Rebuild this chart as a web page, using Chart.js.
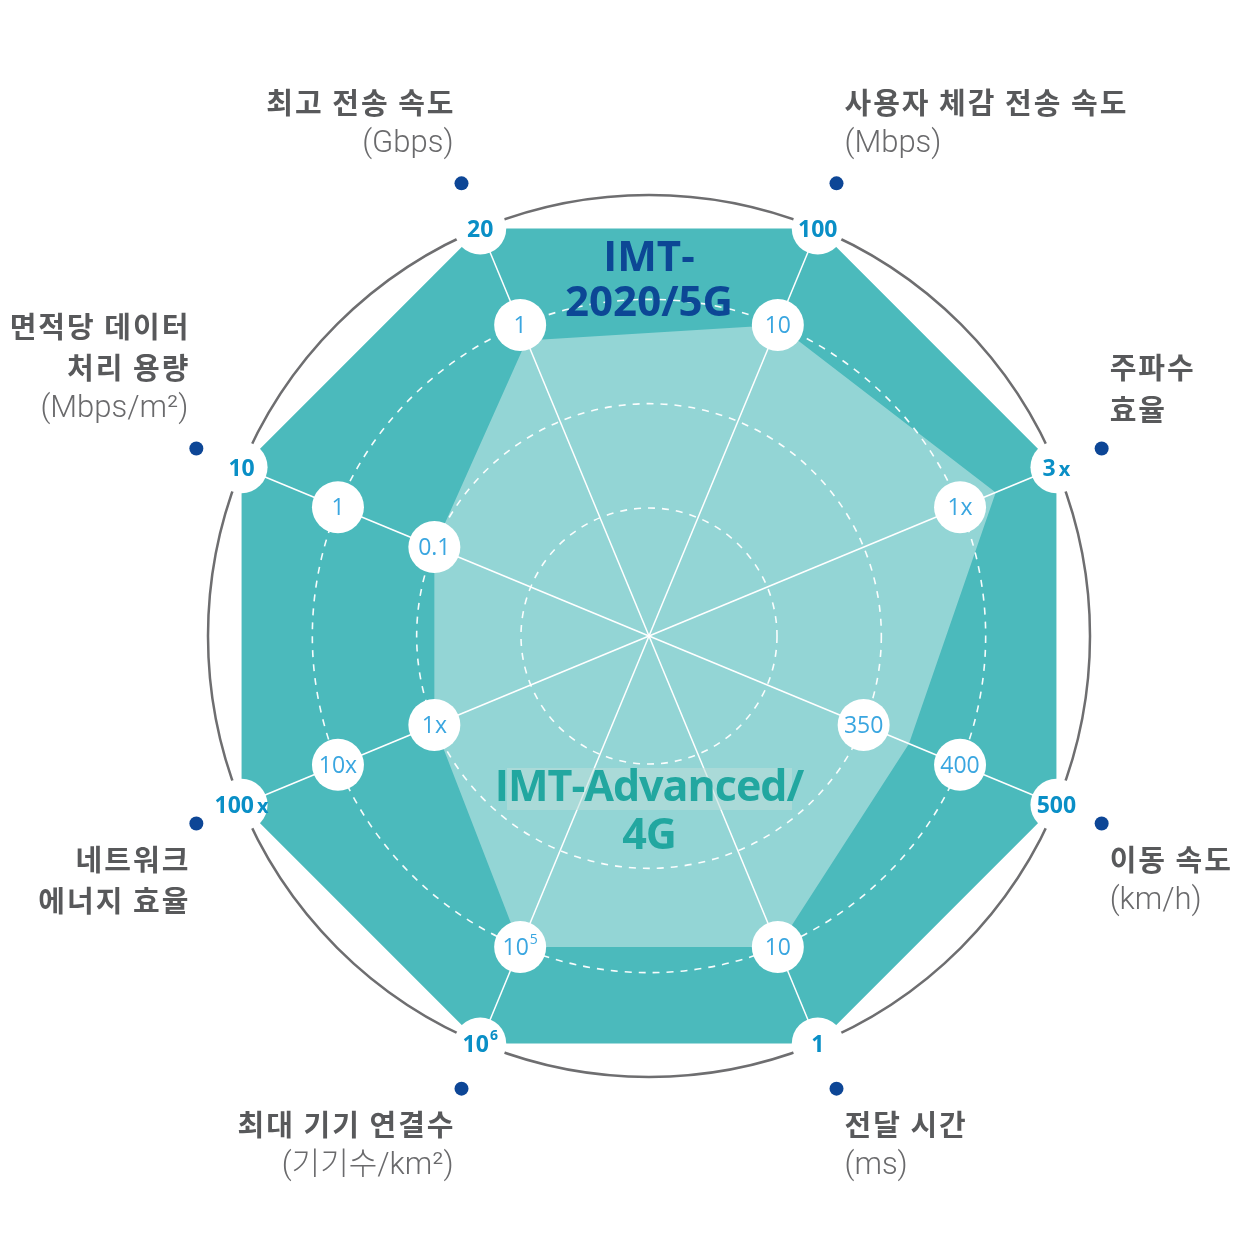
<!DOCTYPE html>
<html><head><meta charset="utf-8">
<script src="https://cdn.jsdelivr.net/npm/chart.js@4.4.1/dist/chart.umd.min.js"></script>
<style>html,body{margin:0;padding:0;background:#fff}#wrap{width:1250px;height:1250px;position:relative}</style>
</head><body><div id="wrap"><canvas id="c"></canvas></div>
<script>
// ---- data ----
const axisNames = [
  ['최고 전송 속도'],
  ['사용자 체감 전송 속도'],
  ['주파수', '효율'],
  ['이동 속도'],
  ['전달 시간'],
  ['최대 기기 연결수'],
  ['네트워크', '에너지 효율'],
  ['면적당 데이터', '처리 용량']
];
const axisUnits = ['(Gbps)', '(Mbps)', '', '(km/h)', '(ms)', '(기기수/km²)', '', '(Mbps/m²)'];
// plotted radial level (ring units)
const imt2020Level = [4, 4, 4, 4, 4, 4, 4, 4];
const imtAdvancedLevel = [2.84, 3.0, 3.37, 2.47, 3.0, 3.0, 2.0, 2.0];
const ringLevels = [1, 2, 3, 4];
const ring2Labels = ['', '', '', '350', '', '', '1x', '0.1'];
const ring3Labels = ['1', '10', '1x', '400', '10', '10^5', '10x', '1'];
const ring4Labels = ['20', '100', '3x', '500', '1', '10^6', '100x', '10'];
const title2020 = ['IMT-', '2020/5G'];
const titleAdvanced = ['IMT-Advanced/', '4G'];

// ---- styles ----
const C_DARK = '#4bbabc', C_LIGHT = '#93d5d5', C_NAVY = '#0c4795', C_TEAL_TXT = '#22a7a0';
const C_OUTER_LBL = '#0a8fc6', C_INNER_LBL = '#3aa6e0', C_GREY = '#58595b';

function drawRich(ctx, text, cx, cy, size, bold, color) {
  const w = bold ? 'bold ' : '';
  const fam = "'Open Sans', 'Noto Sans', sans-serif";
  let parts = [];
  if (text.includes('^')) {
    const [b, s] = text.split('^');
    parts.push({t: b, f: w + size + 'px ' + fam, dy: 0, gap: 0});
    parts.push({t: s, f: w + Math.round(size * 0.6) + 'px ' + fam, dy: -size * 0.5, gap: 1});
  } else if (bold && text.endsWith('x')) {
    parts.push({t: text.slice(0, -1), f: w + size + 'px ' + fam, dy: 0, gap: 0});
    parts.push({t: 'x', f: w + Math.round(size * 0.85) + 'px ' + fam, dy: 0, gap: 3});
  } else {
    parts.push({t: text, f: w + size + 'px ' + fam, dy: 0, gap: 0});
  }
  let total = 0;
  parts.forEach(p => { ctx.font = p.f; p.w = ctx.measureText(p.t).width; total += p.w + p.gap; });
  let x = cx - total / 2;
  const base = cy + size * 0.36;
  ctx.fillStyle = color;
  ctx.textAlign = 'left';
  ctx.textBaseline = 'alphabetic';
  parts.forEach(p => { x += p.gap; ctx.font = p.f; ctx.fillText(p.t, x, base + p.dy); x += p.w; });
}

const overlay = {
  id: 'overlay',
  afterDraw(chart) {
    const ctx = chart.ctx;
    const s = chart.scales.r;
    const R = s.drawingArea;
    const xc = s.xCenter, yc = s.yCenter;
    ctx.save();
    // markers
    [[2, ring2Labels, false], [3, ring3Labels, false], [4, ring4Labels, true]].forEach(([lvl, labels, bold]) => {
      labels.forEach((lab, i) => {
        if (!lab) return;
        const p = s.getPointPositionForValue(i, lvl);
        ctx.beginPath();
        ctx.arc(p.x, p.y, 26, 0, Math.PI * 2);
        ctx.fillStyle = '#ffffff';
        ctx.fill();
        drawRich(ctx, lab, p.x, p.y, 23, bold, bold ? C_OUTER_LBL : C_INNER_LBL);
      });
    });
    // axis dots + titles
    const leftSide = [true, false, false, false, false, true, true, true];
    const above = [true, true, true, false, false, false, false, true];
    axisNames.forEach((names, i) => {
      const d = s.getPointPosition(i, R * 1.111);
      ctx.beginPath();
      ctx.arc(d.x, d.y, 7, 0, Math.PI * 2);
      ctx.fillStyle = '#0d4696';
      ctx.fill();
      const lines = names.map(t => ({t, bold: true}));
      if (axisUnits[i]) lines.push({t: axisUnits[i], bold: false});
      const lh = 41.5;
      let y0 = above[i] ? d.y - 39 - (lines.length - 1) * lh : d.y + 36;
      ctx.textAlign = leftSide[i] ? 'right' : 'left';
      ctx.textBaseline = 'middle';
      lines.forEach((ln, k) => {
        let ls = 0;
        if (ln.bold) {
          ctx.font = "bold 29px 'Noto Sans CJK KR', sans-serif";
          ctx.fillStyle = C_GREY;
          ls = 2;
        } else {
          ctx.font = "300 31px Roboto, 'Noto Sans CJK KR', sans-serif";
          ctx.fillStyle = '#6a6a6c';
          ls = 0;
        }
        ctx.letterSpacing = ls + 'px';
        const tx = leftSide[i] ? d.x - 8 + ls : d.x + 8;
        ctx.fillText(ln.t, tx, y0 + k * lh);
      });
      ctx.letterSpacing = '0px';
    });
    // series titles
    ctx.textAlign = 'center';
    ctx.textBaseline = 'middle';
    ctx.font = "bold 42px 'Open Sans', sans-serif";
    ctx.fillStyle = C_NAVY;
    ctx.fillText(title2020[0], xc, yc - 377);
    ctx.fillText(title2020[1], xc, yc - 332);
    ctx.fillStyle = 'rgba(190,222,218,0.55)';
    ctx.fillRect(xc - 142, yc + 132, 285, 42);
    ctx.font = "bold 43px 'Open Sans', sans-serif";
    ctx.letterSpacing = '-1px';
    ctx.fillStyle = C_TEAL_TXT;
    ctx.fillText(titleAdvanced[0], xc, yc + 153);
    ctx.fillText(titleAdvanced[1], xc, yc + 201);
    ctx.restore();
  }
};

new Chart(document.getElementById('c'), {
  type: 'radar',
  data: {
    labels: axisNames.map(a => a.join(' ')),
    datasets: [
      {label: titleAdvanced.join(''), data: imtAdvancedLevel, backgroundColor: C_LIGHT, borderWidth: 0, fill: 'start', pointRadius: 0},
      {label: title2020.join(''), data: imt2020Level, backgroundColor: C_DARK, borderWidth: 0, fill: 'start', pointRadius: 0}
    ]
  },
  options: {
    responsive: true,
    maintainAspectRatio: false,
    animation: false,
    layout: {padding: {left: 208, right: 160, top: 195, bottom: 173}},
    elements: {line: {tension: 0, borderWidth: 0}, point: {radius: 0, hoverRadius: 0}},
    plugins: {legend: {display: false}, tooltip: {enabled: false}},
    scales: {
      r: {
        min: -0.227,
        max: 4,
        startAngle: -22.5,
        afterBuildTicks: (sc) => { sc.ticks = ringLevels.map(v => ({value: v})); },
        ticks: {display: false},
        pointLabels: {display: false},
        grid: {
          z: 1,
          circular: true,
          color: (c) => c.index === 3 ? '#6e6e70' : 'rgba(255,255,255,0.95)',
          lineWidth: (c) => c.index === 3 ? 2.5 : 1.6
        },
        border: {dash: (c) => c.index === 3 ? [] : [7, 7]},
        angleLines: {display: true, color: '#ffffff', lineWidth: 1.5}
      }
    }
  },
  plugins: [overlay]
});
</script>
</body></html>
